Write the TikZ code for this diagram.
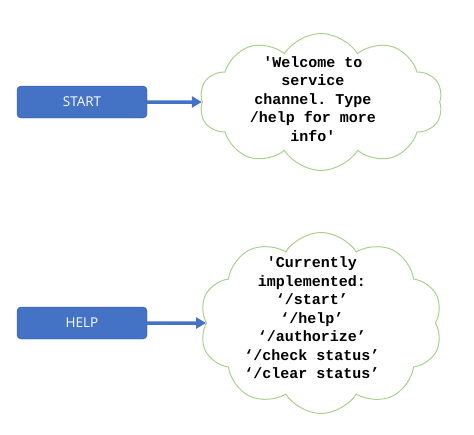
\documentclass[tikz,border=0pt]{standalone}
\usepackage{fontspec}
\setmainfont{Open Sans}
\setmonofont{Liberation Mono}
\usetikzlibrary{shapes.symbols,arrows.meta}
\definecolor{boxblue}{HTML}{4472C4}
\definecolor{boxedge}{HTML}{2F528F}
\definecolor{cloudgreen}{HTML}{A9D18E}
\tikzset{
  cmdbox/.style={draw=boxedge,fill=boxblue,rounded corners=4pt,minimum width=130pt,
    minimum height=32pt,text=white,font=\fontsize{13.5}{16}\selectfont},
  reply/.style={cloud,cloud puffs=10,cloud puff arc=115,cloud ignores aspect,
    draw=cloudgreen,line width=1pt,inner sep=0pt},
  replytext/.style={align=center,font=\ttfamily\bfseries\fontsize{15}{18.5}\selectfont},
  flow/.style={-{Triangle[length=10pt,width=11pt]},line width=3.5pt,boxblue}
}
\begin{document}
\begin{tikzpicture}[x=1pt,y=-1pt]
  \useasboundingbox (0,0) rectangle (474,434);
  \node [cmdbox] (start) at (82,102) {START};
  \node [reply,minimum width=243pt,minimum height=137pt] (welcome) at (321,102) {};
  \node [replytext] (welcometext) at (313,99)
    {'Welcome to\\service\\channel. Type\\/help for more\\info'};
  \draw [flow] (start.east) -- (welcome.west);
  \node [cmdbox] (help) at (82,323) {HELP};
  \node [reply,minimum width=243pt,minimum height=181pt] (helpcloud) at (321,323) {};
  \node [replytext] (helptext) at (312,318)
    {'Currently\\implemented:\\‘/start’\\‘/help’\\‘/authorize’\\‘/check status’\\‘/clear status’};
  \draw [flow] (help.east) -- (helpcloud.west);
\end{tikzpicture}
\end{document}
